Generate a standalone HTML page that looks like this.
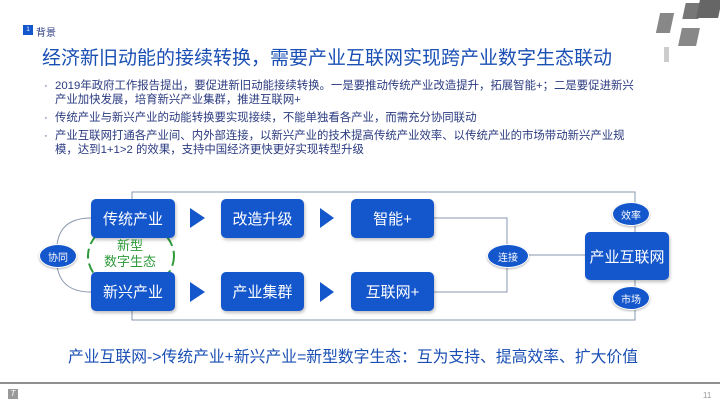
<!DOCTYPE html>
<html><head><meta charset="utf-8"><style>
body{margin:0;width:720px;height:405px;background:#fff;position:relative;overflow:hidden;font-family:"Liberation Sans","Noto Sans CJK SC",sans-serif}
.a{position:absolute}
.box{position:absolute;background:#1456cc;color:#fff;border-radius:5px;display:flex;align-items:center;justify-content:center;font-size:15px;box-shadow:1px 2px 3px rgba(0,0,0,.25)}
.ell{position:absolute;background:#1456cc;color:#fff;border-radius:50%;display:flex;align-items:center;justify-content:center;font-size:10px;border:1px solid #fff;box-shadow:0 1px 2px rgba(0,0,0,.3)}
.bl{position:absolute;font-size:11.4px;color:#2b3b80;line-height:14px;width:610px;word-break:break-all}
.bl span{position:absolute;left:-11px}
</style></head><body>
<div class="a" style="left:23px;top:25px;width:10px;height:10px;background:#1456cc;color:#fff;font-size:6px;text-align:center;line-height:10px">1</div>
<div class="a" style="left:36px;top:24px;font-size:10px;color:#2b3b80">背景</div>
<div class="a" style="left:42px;top:43px;font-size:19px;color:#1a4fb4;white-space:nowrap">经济新旧动能的接续转换，需要产业互联网实现跨产业数字生态联动</div>
<div class="a" style="left:684px;top:3px;width:16px;height:16px;background:#777;transform:skewX(-12deg)"></div>
<div class="a" style="left:698px;top:0px;width:22px;height:18px;background:#666;transform:skewX(-12deg)"></div>
<div class="a" style="left:658px;top:13px;width:14px;height:20px;background:#888;transform:skewX(-12deg)"></div>
<div class="a" style="left:680px;top:28px;width:18px;height:18px;background:#888;transform:skewX(-12deg)"></div>
<div class="a" style="left:664px;top:47px;width:5px;height:15px;background:#ccc"></div>
<div class="bl" style="left:55px;top:79px"><span>·</span>2019年政府工作报告提出，要促进新旧动能接续转换。一是要推动传统产业改造提升，拓展智能+；二是要促进新兴<br>产业加快发展，培育新兴产业集群，推进互联网+</div>
<div class="bl" style="left:55px;top:111px"><span>·</span>传统产业与新兴产业的动能转换要实现接续，不能单独看各产业，而需充分协同联动</div>
<div class="bl" style="left:55px;top:129px"><span>·</span>产业互联网打通各产业间、内外部连接，以新兴产业的技术提高传统产业效率、以传统产业的市场带动新兴产业规<br>模，达到1+1>2 的效果，支持中国经济更快更好实现转型升级</div>
<svg class="a" style="left:0;top:0" width="720" height="405">
<g fill="none" stroke="#8a97b0" stroke-width="1">
<polyline points="132,199 132,192 635,192 635,232"/>
<polyline points="132,310 132,320 635,320 635,280"/>
<polyline points="433,218 507,218 507,292 433,292"/>
<line x1="527" y1="255" x2="585" y2="255"/>
<path d="M91,218 Q60,218 57,245 M57,265 Q60,292 91,292"/>
</g>
<ellipse cx="131" cy="256" rx="43" ry="35" fill="none" stroke="#2e9a3a" stroke-width="2" stroke-dasharray="10,5"/>
<polygon points="190,208 205,218 190,228" fill="#1456cc"/>
<polygon points="320,208 334,218 320,228" fill="#1456cc"/>
<polygon points="190,282 205,292 190,302" fill="#1456cc"/>
<polygon points="320,282 334,292 320,302" fill="#1456cc"/>
<line x1="0" y1="383" x2="720" y2="383" stroke="#222" stroke-width="1"/>
</svg>
<div class="box" style="left:91px;top:199px;width:84px;height:39px">传统产业</div>
<div class="box" style="left:221px;top:199px;width:83px;height:39px">改造升级</div>
<div class="box" style="left:351px;top:199px;width:83px;height:39px">智能+</div>
<div class="box" style="left:91px;top:272px;width:84px;height:39px">新兴产业</div>
<div class="box" style="left:221px;top:272px;width:83px;height:39px">产业集群</div>
<div class="box" style="left:351px;top:272px;width:83px;height:39px">互联网+</div>
<div class="box" style="left:585px;top:232px;width:84px;height:48px">产业互联网</div>
<div class="a" style="left:90px;top:238px;width:80px;text-align:center;color:#2e9a3a;font-size:13px;line-height:16px">新型<br>数字生态</div>
<div class="ell" style="left:39px;top:244px;width:36px;height:22px">协同</div>
<div class="ell" style="left:487px;top:244px;width:40px;height:22px">连接</div>
<div class="ell" style="left:612px;top:202px;width:36px;height:22px">效率</div>
<div class="ell" style="left:612px;top:286px;width:36px;height:22px">市场</div>
<div class="a" style="left:68px;top:344px;font-size:15.8px;color:#1a4fb4;white-space:nowrap">产业互联网->传统产业+新兴产业=新型数字生态：互为支持、提高效率、扩大价值</div>
<div class="a" style="left:8px;top:389px;width:10px;height:10px;background:#999;color:#fff;font-size:8px;text-align:center;line-height:10px;font-style:italic">T</div>
<div class="a" style="left:703px;top:391px;font-size:8px;color:#999">11</div>
</body></html>
